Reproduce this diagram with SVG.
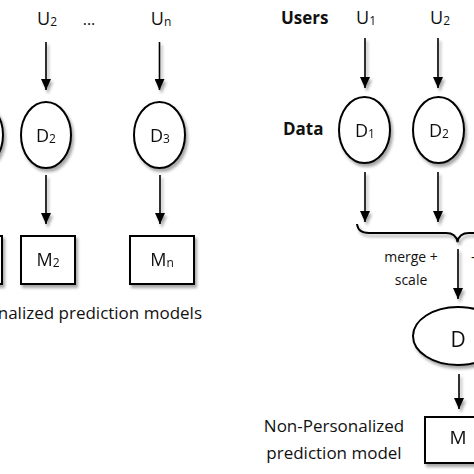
<svg xmlns="http://www.w3.org/2000/svg" width="474" height="474" viewBox="0 0 474 474">
<defs>
<filter id="sh" x="-30%" y="-30%" width="160%" height="160%">
<feDropShadow dx="2" dy="3" stdDeviation="1.6" flood-color="#000" flood-opacity="0.35"/>
</filter>
<marker id="ah" viewBox="0 0 11 10" refX="11" refY="5" markerWidth="11" markerHeight="10" markerUnits="userSpaceOnUse" orient="auto">
<path d="M0,0 L11,5 L0,10 z" fill="#000"/>
</marker>
<style>
.t{font-family:"Open Sans","Noto Sans","DejaVu Sans",sans-serif;fill:#111}
.sub{font-size:12px}
.b{font-weight:bold;font-size:17px}
.node{fill:#fff;stroke:#000;stroke-width:2}
.edge{stroke:#000;stroke-width:1.6;fill:none;marker-end:url(#ah)}
</style>
</defs>
<rect width="474" height="474" fill="#fff"/>

<g id="connectors" filter="url(#sh)">
<line class="edge" x1="46" y1="42" x2="46" y2="90"/>
<line class="edge" x1="159.5" y1="42" x2="159.5" y2="90"/>
<line class="edge" x1="46" y1="175" x2="46" y2="224"/>
<line class="edge" x1="160" y1="175" x2="160" y2="224"/>
<line class="edge" x1="365" y1="38" x2="365" y2="88"/>
<line class="edge" x1="438" y1="38" x2="438" y2="88"/>
<line class="edge" x1="365" y1="172" x2="365" y2="222"/>
<line class="edge" x1="438" y1="172" x2="438" y2="222"/>
<path d="M357,224 Q358,233 369,233 L446,233 Q456,233 457.5,242 Q459,233 469,233 L480,233" stroke="#000" stroke-width="2" fill="none"/>
<line class="edge" x1="458" y1="249" x2="458" y2="299"/>
<line class="edge" x1="459" y1="374" x2="459" y2="409"/>
</g>

<g id="headers">
<text class="t" x="47" y="25" font-size="18" text-anchor="middle">U<tspan class="sub" dy="1">2</tspan></text>
<text class="t" x="89" y="25" font-size="16" text-anchor="middle">...</text>
<text class="t" x="161" y="25" font-size="18" text-anchor="middle">U<tspan class="sub" dy="1">n</tspan></text>
<text class="t b" x="281" y="24">Users</text>
<text class="t b" x="283" y="135">Data</text>
<text class="t" x="366" y="24" font-size="18" text-anchor="middle">U<tspan class="sub" dy="1">1</tspan></text>
<text class="t" x="440" y="24" font-size="18" text-anchor="middle">U<tspan class="sub" dy="1">2</tspan></text>
</g>

<g id="D1left" filter="url(#sh)">
<ellipse class="node" cx="-22" cy="135" rx="25" ry="33"/>
</g>
<g id="D2left" filter="url(#sh)">
<ellipse class="node" cx="46" cy="135" rx="25" ry="33"/>
<text class="t" x="46" y="142" font-size="18" text-anchor="middle">D<tspan class="sub" dy="1">2</tspan></text>
</g>
<g id="D3left" filter="url(#sh)">
<ellipse class="node" cx="159.5" cy="135" rx="25.5" ry="33"/>
<text class="t" x="160" y="142" font-size="18" text-anchor="middle">D<tspan class="sub" dy="1">3</tspan></text>
</g>
<g id="M1left" filter="url(#sh)">
<rect class="node" x="-52" y="236" width="54" height="48"/>
</g>
<g id="M2left" filter="url(#sh)">
<rect class="node" x="21" y="236" width="54" height="48"/>
<text class="t" x="48" y="266" font-size="18" text-anchor="middle">M<tspan class="sub" dy="1">2</tspan></text>
</g>
<g id="Mnleft" filter="url(#sh)">
<rect class="node" x="130" y="236" width="64" height="48"/>
<text class="t" x="162" y="266" font-size="18" text-anchor="middle">M<tspan class="sub" dy="1">n</tspan></text>
</g>
<text class="t" x="202" y="319" font-size="17" text-anchor="end">Personalized prediction models</text>

<g id="D1right" filter="url(#sh)">
<ellipse class="node" cx="364.5" cy="130" rx="25.5" ry="33"/>
<text class="t" x="365" y="137" font-size="18" text-anchor="middle">D<tspan class="sub" dy="1">1</tspan></text>
</g>
<g id="D2right" filter="url(#sh)">
<ellipse class="node" cx="438.5" cy="130" rx="25.5" ry="33"/>
<text class="t" x="439" y="137" font-size="18" text-anchor="middle">D<tspan class="sub" dy="1">2</tspan></text>
</g>

<text class="t" x="411" y="262" font-size="14" text-anchor="middle">merge +</text>
<text class="t" x="411" y="285" font-size="14" text-anchor="middle">scale</text>
<text class="t" x="471" y="262" font-size="14">-</text>

<g id="D" filter="url(#sh)">
<ellipse class="node" cx="458" cy="336" rx="45" ry="29"/>
<text class="t" x="458" y="347" font-size="21" text-anchor="middle">D</text>
</g>
<g id="M" filter="url(#sh)">
<rect class="node" x="425" y="417" width="70" height="46"/>
<text class="t" x="458" y="444" font-size="19" text-anchor="middle">M</text>
</g>
<text class="t" x="334" y="432" font-size="17" text-anchor="middle">Non-Personalized</text>
<text class="t" x="334" y="459" font-size="17" text-anchor="middle">prediction model</text>
</svg>
